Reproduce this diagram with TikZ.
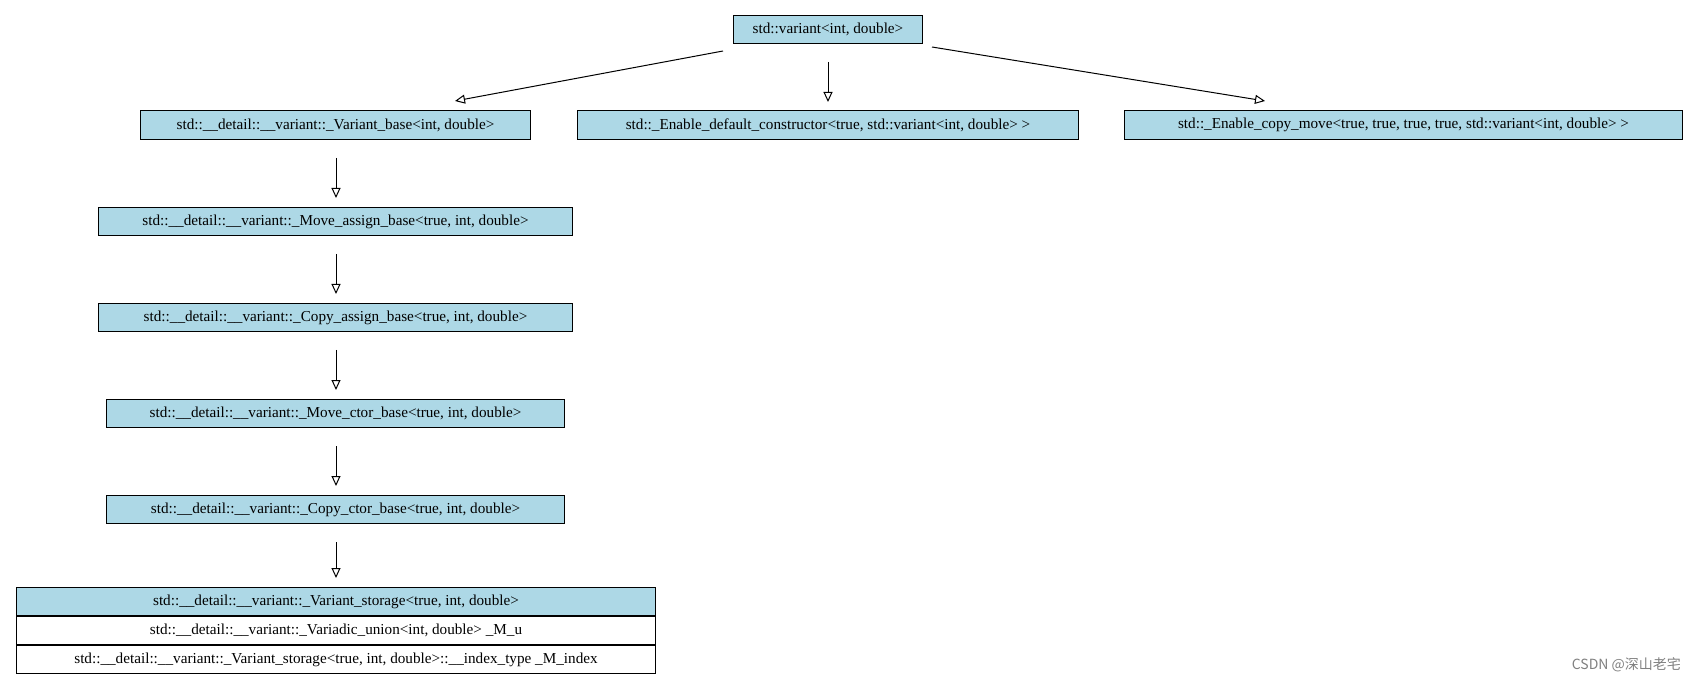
\documentclass[tikz,border=0pt]{standalone}
\usepackage{fontspec}
\setmainfont{Liberation Serif}
\newfontfamily\cjkfont{Noto Sans CJK SC}
\usetikzlibrary{arrows.meta}
\definecolor{boxblue}{HTML}{ADD8E6}
\begin{document}
\begin{tikzpicture}[x=0.5pt,y=-0.5pt,
  cls/.style={draw=black,fill=boxblue,line width=0.5pt,inner sep=0pt,font=\fontsize{7.6}{9}\selectfont},
  fld/.style={draw=black,fill=white,line width=0.5pt,inner sep=0pt,font=\fontsize{7.6}{9}\selectfont},
  inh/.style={-{Triangle[open,length=5pt,width=4.5pt]},line width=0.5pt,shorten >=1pt,shorten <=3pt}]
\useasboundingbox (0,0) rectangle (1698,684);
\newcommand{\bx}[7]{\node[#1,minimum width=#4*0.5pt-0.5pt,minimum height=#5*0.5pt-0.5pt] (#2) at ({(#3+#4/2)},{#6}) {#7};}
% name, left, width, height, centre y
\bx{cls}{top}{733}{190}{29}{29.5}{std::variant<int, double>}
\bx{cls}{vb}{140}{391}{30}{125}{std::\_\_detail::\_\_variant::\_Variant\_base<int, double>}
\bx{cls}{edc}{577}{502}{30}{125}{std::\_Enable\_default\_constructor<true, std::variant<int, double> >}
\bx{cls}{ecm}{1124}{559}{30}{125}{std::\_Enable\_copy\_move<true, true, true, true, std::variant<int, double> >}
\bx{cls}{mab}{98}{475}{29}{221.5}{std::\_\_detail::\_\_variant::\_Move\_assign\_base<true, int, double>}
\bx{cls}{cab}{98}{475}{29}{317.5}{std::\_\_detail::\_\_variant::\_Copy\_assign\_base<true, int, double>}
\bx{cls}{mcb}{106}{459}{29}{413.5}{std::\_\_detail::\_\_variant::\_Move\_ctor\_base<true, int, double>}
\bx{cls}{ccb}{106}{459}{29}{509.5}{std::\_\_detail::\_\_variant::\_Copy\_ctor\_base<true, int, double>}
\bx{cls}{vs}{16}{640}{29}{601.5}{std::\_\_detail::\_\_variant::\_Variant\_storage<true, int, double>}
\bx{fld}{vsu}{16}{640}{29}{630.5}{std::\_\_detail::\_\_variant::\_Variadic\_union<int, double> \_M\_u}
\bx{fld}{vsi}{16}{640}{29}{659.5}{std::\_\_detail::\_\_variant::\_Variant\_storage<true, int, double>::\_\_index\_type \_M\_index}
\coordinate (a1) at (723,51); \coordinate (a1e) at (455,101);
\coordinate (a3) at (932,47); \coordinate (a3e) at (1265,101);
\draw[inh,shorten <=0pt,shorten >=0pt] (a1) -- (a1e);
\draw[inh,shorten <=0pt,shorten >=0pt] (a3) -- (a3e);
\draw[inh,shorten <=9pt,shorten >=4pt] (top.south -| edc.north) -- (edc.north);
\foreach \a/\b in {vb/mab,mab/cab,cab/mcb,mcb/ccb,ccb/vs}
  \draw[inh,shorten <=9pt,shorten >=4.5pt] (\a.south -| 336,0) -- (\b.north -| 336,0);
\node[text=gray,font=\cjkfont\fontsize{7}{8}\selectfont,anchor=east] (wm) at (1688,665) {CSDN @深山老宅};
\end{tikzpicture}
\end{document}
